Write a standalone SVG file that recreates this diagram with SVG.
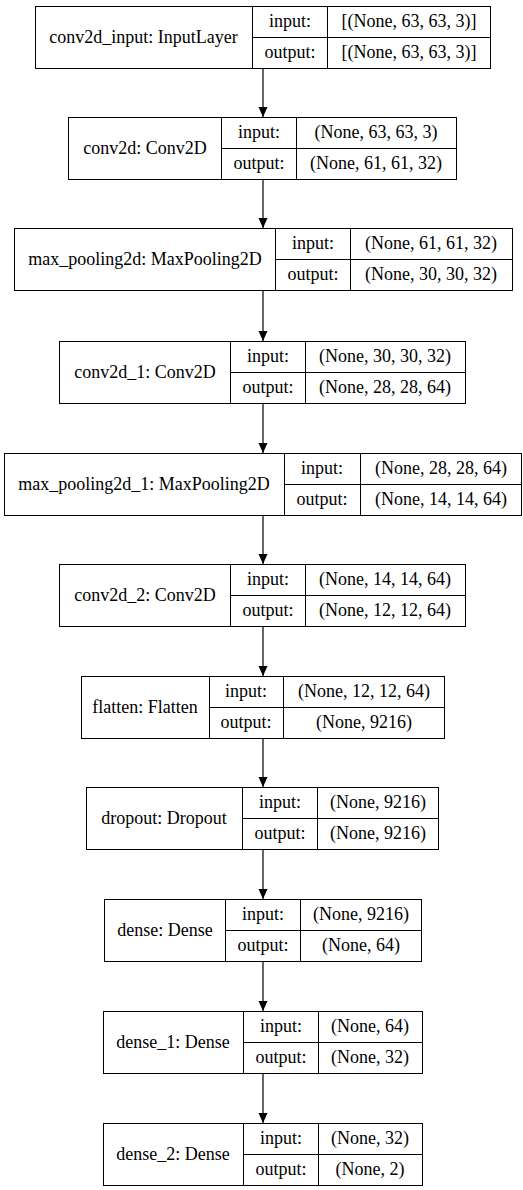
<svg xmlns="http://www.w3.org/2000/svg" width="523" height="1190" viewBox="0 0 523 1190">
<style>
.b{fill:#fff;stroke:#000;stroke-width:1}
.l{fill:none;stroke:#000;stroke-width:1}
.c{stroke:#000;stroke-width:1.2;fill:none}
</style>
<defs>
<marker id="ah" markerUnits="userSpaceOnUse" markerWidth="10" markerHeight="10" refX="10" refY="4.5" orient="auto">
<path d="M0,0 L10,4.5 L0,9 z" fill="#000"/>
</marker>
</defs>
<rect width="523" height="1190" fill="#fff"/>
<g id="connectors">
<line class="c" x1="263" y1="68" x2="263" y2="117" marker-end="url(#ah)"/>
<line class="c" x1="263" y1="179" x2="263" y2="228" marker-end="url(#ah)"/>
<line class="c" x1="263" y1="290" x2="263" y2="341" marker-end="url(#ah)"/>
<line class="c" x1="263" y1="403" x2="263" y2="453" marker-end="url(#ah)"/>
<line class="c" x1="263" y1="515" x2="263" y2="564" marker-end="url(#ah)"/>
<line class="c" x1="263" y1="626" x2="263" y2="676" marker-end="url(#ah)"/>
<line class="c" x1="263" y1="738" x2="263" y2="787" marker-end="url(#ah)"/>
<line class="c" x1="263" y1="849" x2="263" y2="899" marker-end="url(#ah)"/>
<line class="c" x1="263" y1="961" x2="263" y2="1011" marker-end="url(#ah)"/>
<line class="c" x1="263" y1="1073" x2="263" y2="1123" marker-end="url(#ah)"/>
</g>
<g font-family="Liberation Serif" font-size="18" text-anchor="middle" fill="#000">
<g id="conv2d_input">
<rect class="b" x="35.5" y="6.5" width="455" height="62"/>
<path class="l" d="M252.5,6.5V68.5M327.5,6.5V68.5M252.5,37.5H490.5"/>
<text x="143.5" y="43">conv2d_input: InputLayer</text>
<text x="290" y="27">input:</text>
<text x="290" y="58">output:</text>
<text x="409" y="27">[(None, 63, 63, 3)]</text>
<text x="409" y="58">[(None, 63, 63, 3)]</text>
</g>
<g id="conv2d">
<rect class="b" x="68.5" y="117.5" width="388" height="62"/>
<path class="l" d="M221.5,117.5V179.5M296.5,117.5V179.5M221.5,148.5H456.5"/>
<text x="145" y="154">conv2d: Conv2D</text>
<text x="259" y="138">input:</text>
<text x="259" y="169">output:</text>
<text x="376" y="138">(None, 63, 63, 3)</text>
<text x="376" y="169">(None, 61, 61, 32)</text>
</g>
<g id="max_pooling2d">
<rect class="b" x="14.5" y="228.5" width="498" height="62"/>
<path class="l" d="M275.5,228.5V290.5M350.5,228.5V290.5M275.5,259.5H512.5"/>
<text x="145" y="265">max_pooling2d: MaxPooling2D</text>
<text x="313" y="249">input:</text>
<text x="313" y="280">output:</text>
<text x="431" y="249">(None, 61, 61, 32)</text>
<text x="431" y="280">(None, 30, 30, 32)</text>
</g>
<g id="conv2d_1">
<rect class="b" x="59.5" y="341.5" width="406" height="62"/>
<path class="l" d="M230.5,341.5V403.5M305.5,341.5V403.5M230.5,372.5H465.5"/>
<text x="145" y="378">conv2d_1: Conv2D</text>
<text x="268" y="362">input:</text>
<text x="268" y="393">output:</text>
<text x="385" y="362">(None, 30, 30, 32)</text>
<text x="385" y="393">(None, 28, 28, 64)</text>
</g>
<g id="max_pooling2d_1">
<rect class="b" x="4.5" y="453.5" width="517" height="62"/>
<path class="l" d="M284.5,453.5V515.5M360.5,453.5V515.5M284.5,484.5H521.5"/>
<text x="144" y="490">max_pooling2d_1: MaxPooling2D</text>
<text x="322" y="474">input:</text>
<text x="322" y="505">output:</text>
<text x="441" y="474">(None, 28, 28, 64)</text>
<text x="441" y="505">(None, 14, 14, 64)</text>
</g>
<g id="conv2d_2">
<rect class="b" x="59.5" y="564.5" width="406" height="62"/>
<path class="l" d="M230.5,564.5V626.5M305.5,564.5V626.5M230.5,595.5H465.5"/>
<text x="145" y="601">conv2d_2: Conv2D</text>
<text x="268" y="585">input:</text>
<text x="268" y="616">output:</text>
<text x="385" y="585">(None, 14, 14, 64)</text>
<text x="385" y="616">(None, 12, 12, 64)</text>
</g>
<g id="flatten">
<rect class="b" x="81.5" y="676.5" width="363" height="62"/>
<path class="l" d="M209.5,676.5V738.5M283.5,676.5V738.5M209.5,707.5H444.5"/>
<text x="145" y="713">flatten: Flatten</text>
<text x="246" y="697">input:</text>
<text x="246" y="728">output:</text>
<text x="364" y="697">(None, 12, 12, 64)</text>
<text x="364" y="728">(None, 9216)</text>
</g>
<g id="dropout">
<rect class="b" x="86.5" y="787.5" width="352" height="62"/>
<path class="l" d="M242.5,787.5V849.5M317.5,787.5V849.5M242.5,818.5H438.5"/>
<text x="164" y="824">dropout: Dropout</text>
<text x="280" y="808">input:</text>
<text x="280" y="839">output:</text>
<text x="378" y="808">(None, 9216)</text>
<text x="378" y="839">(None, 9216)</text>
</g>
<g id="dense">
<rect class="b" x="104.5" y="899.5" width="317" height="62"/>
<path class="l" d="M225.5,899.5V961.5M300.5,899.5V961.5M225.5,930.5H421.5"/>
<text x="165" y="936">dense: Dense</text>
<text x="263" y="920">input:</text>
<text x="263" y="951">output:</text>
<text x="361" y="920">(None, 9216)</text>
<text x="361" y="951">(None, 64)</text>
</g>
<g id="dense_1">
<rect class="b" x="103.5" y="1011.5" width="319" height="62"/>
<path class="l" d="M243.5,1011.5V1073.5M318.5,1011.5V1073.5M243.5,1042.5H422.5"/>
<text x="173" y="1048">dense_1: Dense</text>
<text x="281" y="1032">input:</text>
<text x="281" y="1063">output:</text>
<text x="370" y="1032">(None, 64)</text>
<text x="370" y="1063">(None, 32)</text>
</g>
<g id="dense_2">
<rect class="b" x="103.5" y="1123.5" width="319" height="62"/>
<path class="l" d="M243.5,1123.5V1185.5M318.5,1123.5V1185.5M243.5,1154.5H422.5"/>
<text x="173" y="1160">dense_2: Dense</text>
<text x="281" y="1144">input:</text>
<text x="281" y="1175">output:</text>
<text x="370" y="1144">(None, 32)</text>
<text x="370" y="1175">(None, 2)</text>
</g>
</g>
</svg>
